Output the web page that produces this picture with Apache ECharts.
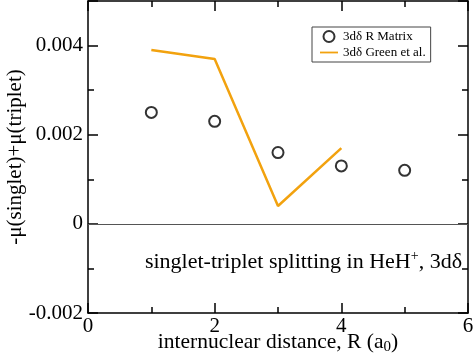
<!DOCTYPE html>
<html>
<head>
<meta charset="utf-8">
<script src="https://cdn.jsdelivr.net/npm/echarts@6/dist/echarts.min.js"></script>
<style>html,body{margin:0;padding:0;background:#fff}#c{width:474px;height:363px}</style>
</head>
<body>
<div id="c"></div>
<script>
var rDistance = [1, 2, 3, 4, 5];
var rMatrix = [0.0025, 0.0023, 0.0016, 0.0013, 0.0012];
var greenDistance = [1, 2, 3, 4];
var greenValues = [0.0039, 0.0037, 0.0004, 0.0017];
var xTicks = [0, 2, 4, 6];
var yTicks = [-0.002, 0, 0.002, 0.004];

var FONT = 'Liberation Serif';
var chart = echarts.init(document.getElementById('c'), null, {renderer: 'canvas'});

function fmtY(v) {
  if (Math.abs(v) < 1e-12) return '0';
  if (Math.abs(v - 0.005) < 1e-9) return '';
  return v.toFixed(3);
}

function baseAxis() {
  return {
    axisLine: {show: true, onZero: false, lineStyle: {color: '#000', width: 1.5}},
    axisTick: {show: true, inside: true, length: 10, lineStyle: {color: '#000', width: 1.5}},
    minorTick: {show: true, splitNumber: 2, length: 6, lineStyle: {color: '#000', width: 1.5}},
    splitLine: {show: false}
  };
}

var option = {
  animation: false,
  backgroundColor: '#fff',
  grid: {left: 88, right: 6, top: 1, bottom: 50, containLabel: false, outerBoundsMode: 'none'},
  xAxis: [
    Object.assign(baseAxis(), {
      type: 'value', min: 0, max: 6, interval: 2, position: 'bottom',
      axisLabel: {fontFamily: FONT, fontSize: 21, color: '#000', margin: 3},
      name: '{a|internuclear distance, R (a}{s|0}{a|)}',
      nameLocation: 'middle', nameGap: 16, nameMoveOverlap: false,
      nameTextStyle: {
        rich: {
          a: {fontFamily: FONT, fontSize: 21.5, color: '#000'},
          s: {fontFamily: FONT, fontSize: 15, color: '#000', padding: [11, 0, 0, 0]}
        }
      }
    }),
    Object.assign(baseAxis(), {
      type: 'value', min: 0, max: 6, interval: 2, position: 'top',
      axisLabel: {show: false}
    })
  ],
  yAxis: [
    Object.assign(baseAxis(), {
      type: 'value', min: -0.002, max: 0.005, interval: 0.002, position: 'left',
      axisLabel: {fontFamily: FONT, fontSize: 21, color: '#000', margin: 5, formatter: fmtY},
      name: '-μ(singlet)+μ(triplet)',
      nameLocation: 'middle', nameGap: 62, nameRotate: 90, nameMoveOverlap: false,
      nameTextStyle: {fontFamily: FONT, fontSize: 21, color: '#000'}
    }),
    Object.assign(baseAxis(), {
      type: 'value', min: -0.002, max: 0.005, interval: 0.002, position: 'right',
      axisLabel: {show: false}
    })
  ],
  legend: {
    left: 312, top: 27,
    orient: 'vertical',
    padding: [3, 5, 3, 8],
    itemGap: 3,
    itemWidth: 18, itemHeight: 11,
    borderColor: '#444', borderWidth: 1,
    backgroundColor: '#fff',
    textStyle: {fontFamily: FONT, fontSize: 13, color: '#000', padding: [0, 0, 0, 0]},
    data: [
      {name: '3dδ R Matrix', icon: 'emptyCircle'},
      {name: '3dδ Green et al.', icon: 'path://M0,0H30V3H0Z'}
    ]
  },
  graphic: [{
    type: 'text',
    z: 100,
    style: {
      x: 462, y: 262, align: 'right', verticalAlign: 'middle',
      text: '{a|singlet-triplet splitting in HeH}{s|+}{a|, 3dδ}',
      rich: {
        a: {fontFamily: FONT, fontSize: 22, fill: '#000'},
        s: {fontFamily: FONT, fontSize: 14, fill: '#000', padding: [0, 0, 11, 0]}
      }
    }
  }],
  series: [
    {
      name: '3dδ Green et al.',
      type: 'line',
      symbol: 'none',
      lineStyle: {color: '#F2A20F', width: 2.5},
      itemStyle: {color: '#F2A20F'},
      data: greenDistance.map(function (d, i) { return [d, greenValues[i]]; }),
      markLine: {
        silent: true, symbol: 'none', label: {show: false},
        lineStyle: {color: '#555', width: 1.2, type: 'solid'},
        data: [{yAxis: 0}]
      },
      z: 3
    },
    {
      name: '3dδ R Matrix',
      type: 'scatter',
      symbol: 'emptyCircle',
      symbolSize: 11,
      itemStyle: {color: '#000', borderColor: '#000', borderWidth: 2},
      data: rDistance.map(function (d, i) { return [d, rMatrix[i]]; }),
      z: 4
    }
  ]
};
chart.setOption(option);
</script>
</body>
</html>
